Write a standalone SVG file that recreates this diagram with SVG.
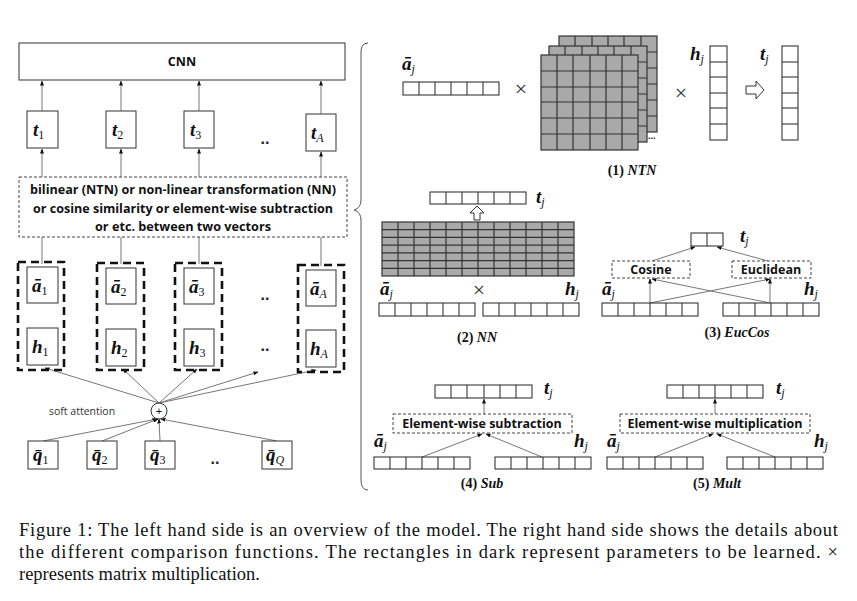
<svg xmlns="http://www.w3.org/2000/svg" width="857" height="601" viewBox="0 0 857 601">
<defs>
<marker id="ah" viewBox="0 0 10 10" refX="9" refY="5" markerWidth="5" markerHeight="5" orient="auto"><path d="M0,1 L10,5 L0,9 z" fill="#111"/></marker>
</defs>
<style>
.b{fill:#fff;stroke:#333;stroke-width:1}
.d{fill:#fff;stroke:#444;stroke-width:1;stroke-dasharray:3,2}
.g{fill:none;stroke:#111;stroke-width:2.6;stroke-dasharray:8,5}
.l{stroke:#777;stroke-width:1;fill:none}
.a{stroke:#777;stroke-width:1;fill:none;marker-end:url(#ah)}
.gr{fill:#a9a9a9;stroke:#333;stroke-width:1.2}
.gl{stroke:#333;stroke-width:1.2;fill:none}
.cl{stroke:#222;stroke-width:1;fill:none}
.s{font-family:"Open Sans","Liberation Sans",sans-serif;font-weight:bold;font-size:12.5px;fill:#111;text-anchor:middle}
.m{font-family:"Liberation Serif",serif;font-weight:bold;font-style:italic;font-size:19px;fill:#111}
.sub{font-family:"Liberation Serif",serif;font-style:italic;font-weight:normal;font-size:12px}
.sn{font-family:"Liberation Serif",serif;font-style:normal;font-weight:normal;font-size:12px}
.c{font-family:"Liberation Serif",serif;font-size:18.5px;fill:#111}
.cap{font-family:"Liberation Serif",serif;font-weight:bold;font-size:14px;fill:#111;text-anchor:middle}
.x{font-family:"Liberation Serif",serif;font-size:22px;fill:#333;text-anchor:middle}
.dots{font-family:"Liberation Sans",sans-serif;font-weight:bold;font-size:16px;fill:#222;text-anchor:middle}
</style>

<g id="connectors">
<line class="a" x1="42" y1="111" x2="42" y2="81"/>
<line class="a" x1="121" y1="111" x2="121" y2="81"/>
<line class="a" x1="199" y1="111" x2="199" y2="81"/>
<line class="a" x1="321" y1="114" x2="321" y2="81"/>
<line class="a" x1="42" y1="177" x2="42" y2="149"/>
<line class="a" x1="121" y1="177" x2="121" y2="149"/>
<line class="a" x1="199" y1="177" x2="199" y2="149"/>
<line class="a" x1="321" y1="177" x2="321" y2="152"/>
<line class="l" x1="42" y1="237" x2="42" y2="264"/>
<line class="l" x1="121" y1="237" x2="121" y2="264"/>
<line class="l" x1="199" y1="237" x2="199" y2="264"/>
<line class="l" x1="321" y1="237" x2="321" y2="266"/>
<line class="a" x1="159" y1="403" x2="45" y2="368"/>
<line class="a" x1="159" y1="403" x2="123" y2="369"/>
<line class="a" x1="159" y1="403" x2="197" y2="369"/>
<line class="a" x1="159" y1="403" x2="258" y2="372"/>
<line class="a" x1="159" y1="403" x2="316" y2="370"/>
<line class="a" x1="43" y1="441" x2="157" y2="419"/>
<line class="a" x1="102" y1="441" x2="158" y2="419"/>
<line class="a" x1="160" y1="441" x2="159" y2="419"/>
<line class="a" x1="277" y1="441" x2="161" y2="419"/>
<line class="a" x1="650" y1="303" x2="650" y2="279"/>
<line class="a" x1="650" y1="303" x2="770" y2="279"/>
<line class="a" x1="770" y1="303" x2="652" y2="279"/>
<line class="a" x1="770" y1="303" x2="770" y2="279"/>
<line class="a" x1="652" y1="261" x2="695" y2="247"/>
<line class="a" x1="768" y1="261" x2="717" y2="247"/>
<line class="a" x1="484" y1="414" x2="484" y2="399"/>
<line class="a" x1="422" y1="457" x2="482" y2="434"/>
<line class="a" x1="542" y1="457" x2="486" y2="434"/>
<line class="a" x1="715" y1="414" x2="715" y2="399"/>
<line class="a" x1="655" y1="457" x2="713" y2="434"/>
<line class="a" x1="775" y1="457" x2="717" y2="434"/>
</g>

<g id="cnn"><rect class="b" x="19" y="43" width="326" height="37"/><text class="s" x="182" y="66">CNN</text></g>
<g id="t1"><rect class="b" x="27" y="111" width="31" height="37"/><text class="m" x="33" y="136">t<tspan class="sn" dy="3">1</tspan></text></g>
<g id="t2"><rect class="b" x="106" y="111" width="30" height="37"/><text class="m" x="112" y="136">t<tspan class="sn" dy="3">2</tspan></text></g>
<g id="t3"><rect class="b" x="184" y="111" width="30" height="37"/><text class="m" x="190" y="136">t<tspan class="sn" dy="3">3</tspan></text></g>
<text class="dots" x="265" y="144">..</text>
<g id="tA"><rect class="b" x="306" y="114" width="30" height="37"/><text class="m" x="311" y="139">t<tspan class="sub" dy="3">A</tspan></text></g>

<g id="compare"><rect class="d" x="19" y="177" width="328" height="60"/>
<text class="s" x="183" y="194" textLength="306" lengthAdjust="spacingAndGlyphs">bilinear (NTN) or non-linear transformation (NN)</text>
<text class="s" x="183" y="213" textLength="300" lengthAdjust="spacingAndGlyphs">or cosine similarity or element-wise subtraction</text>
<text class="s" x="183" y="231" textLength="176" lengthAdjust="spacingAndGlyphs">or etc. between two vectors</text></g>

<g id="pair1"><rect class="g" x="18" y="262" width="46" height="108"/>
<rect class="b" x="27" y="267" width="31" height="36"/><text class="m" x="32" y="292">ā<tspan class="sn" dy="3">1</tspan></text>
<rect class="b" x="27" y="328" width="31" height="37"/><text class="m" x="32" y="353">h<tspan class="sn" dy="3">1</tspan></text></g>
<g id="pair2"><rect class="g" x="97" y="263" width="47" height="107"/>
<rect class="b" x="106" y="268" width="30" height="36"/><text class="m" x="111" y="293">ā<tspan class="sn" dy="3">2</tspan></text>
<rect class="b" x="106" y="329" width="30" height="37"/><text class="m" x="111" y="354">h<tspan class="sn" dy="3">2</tspan></text></g>
<g id="pair3"><rect class="g" x="175" y="263" width="47" height="107"/>
<rect class="b" x="184" y="268" width="30" height="36"/><text class="m" x="189" y="293">ā<tspan class="sn" dy="3">3</tspan></text>
<rect class="b" x="184" y="329" width="30" height="37"/><text class="m" x="189" y="354">h<tspan class="sn" dy="3">3</tspan></text></g>
<text class="dots" x="265" y="300">..</text>
<text class="dots" x="265" y="351">..</text>
<g id="pairA"><rect class="g" x="298" y="265" width="46" height="107"/>
<rect class="b" x="306" y="270" width="30" height="36"/><text class="m" x="310" y="295">ā<tspan class="sub" dy="3">A</tspan></text>
<rect class="b" x="306" y="330" width="30" height="37"/><text class="m" x="310" y="355">h<tspan class="sub" dy="3">A</tspan></text></g>

<g id="attn"><circle cx="159" cy="411" r="8" fill="#fff" stroke="#333"/>
<text x="159" y="415" font-family="Liberation Sans,sans-serif" font-size="11" text-anchor="middle" fill="#111">+</text>
<text x="49" y="415" font-family="Open Sans,Liberation Sans,sans-serif" font-size="10.5" fill="#333">soft attention</text></g>

<g id="q1"><rect class="b" x="28" y="441" width="30" height="28"/><text class="m" x="33" y="461">q̄<tspan class="sn" dy="3">1</tspan></text></g>
<g id="q2"><rect class="b" x="87" y="441" width="30" height="28"/><text class="m" x="92" y="461">q̄<tspan class="sn" dy="3">2</tspan></text></g>
<g id="q3"><rect class="b" x="145" y="441" width="30" height="28"/><text class="m" x="150" y="461">q̄<tspan class="sn" dy="3">3</tspan></text></g>
<text class="dots" x="215" y="464">..</text>
<g id="qQ"><rect class="b" x="262" y="441" width="30" height="28"/><text class="m" x="266" y="461">q̄<tspan class="sub" dy="3">Q</tspan></text></g>

<path id="brace" d="M368,43 Q361,43 361,52 L361,200 Q361,208 354,210 Q361,212 361,220 L361,480 Q361,490 368,490" fill="none" stroke="#555" stroke-width="1"/>

<g id="ntn">
<text class="m" x="402" y="70">ā<tspan class="sub" dy="3">j</tspan></text>
<rect x="403" y="82" width="96" height="13" fill="#fff" stroke="#222"/>
<path class="cl" d="M419,82V95M435,82V95M451,82V95M467,82V95M483,82V95"/>
<text class="x" x="521" y="96">×</text>
<rect class="gr" x="559" y="36" width="98" height="96"/>
<path class="gl" d="M575,36V132M592,36V132M608,36V132M624,36V132M641,36V132M559,52H657M559,68H657M559,84H657M559,100H657M559,116H657"/>
<rect class="gr" x="549" y="46" width="98" height="96"/>
<path class="gl" d="M565,46V142M582,46V142M598,46V142M614,46V142M631,46V142M549,62H647M549,78H647M549,94H647M549,110H647M549,126H647"/>
<rect class="gr" x="541" y="55" width="97" height="95"/>
<path class="gl" d="M557,55V150M573,55V150M590,55V150M606,55V150M622,55V150M541,71H638M541,87H638M541,102H638M541,118H638M541,134H638"/>
<text x="648" y="139" font-family="Liberation Sans,sans-serif" font-weight="bold" font-size="9" fill="#111">...</text>
<text class="x" x="681" y="100">×</text>
<text class="m" x="690" y="60">h<tspan class="sub" dy="3">j</tspan></text>
<rect x="710" y="46" width="17" height="94" fill="#fff" stroke="#222"/>
<path class="cl" d="M710,62H727M710,77H727M710,93H727M710,108H727M710,124H727"/>
<path d="M746,86 L756,86 L756,81 L764,90 L756,99 L756,94 L746,94 z" fill="#fff" stroke="#333"/>
<text class="m" x="760" y="60">t<tspan class="sub" dy="3">j</tspan></text>
<rect x="782" y="46" width="16" height="94" fill="#fff" stroke="#222"/>
<path class="cl" d="M782,62H798M782,77H798M782,93H798M782,108H798M782,124H798"/>
<text class="cap" x="632" y="175">(1) <tspan font-style="italic">NTN</tspan></text>
</g>

<g id="nn">
<rect x="430" y="192" width="96" height="12" fill="#fff" stroke="#222"/>
<path class="cl" d="M446,192V204M462,192V204M478,192V204M494,192V204M510,192V204"/>
<text class="m" x="536" y="203">t<tspan class="sub" dy="3">j</tspan></text>
<path d="M474,220 L474,213 L470,213 L477,206 L484,213 L480,213 L480,220 z" fill="#fff" stroke="#333"/>
<rect class="gr" x="382" y="222" width="192" height="54"/>
<path class="gl" d="M398,222V276M414,222V276M430,222V276M446,222V276M462,222V276M478,222V276M494,222V276M510,222V276M526,222V276M542,222V276M558,222V276M382,229.7H574M382,237.4H574M382,245.1H574M382,252.9H574M382,260.6H574M382,268.3H574"/>
<text class="m" x="380" y="295">ā<tspan class="sub" dy="3">j</tspan></text>
<text class="x" x="479" y="297">×</text>
<text class="m" x="565" y="295">h<tspan class="sub" dy="3">j</tspan></text>
<rect x="379" y="303" width="96" height="13" fill="#fff" stroke="#222"/>
<path class="cl" d="M395,303V316M411,303V316M427,303V316M443,303V316M459,303V316"/>
<rect x="483" y="303" width="96" height="13" fill="#fff" stroke="#222"/>
<path class="cl" d="M499,303V316M515,303V316M531,303V316M547,303V316M563,303V316"/>
<text class="cap" x="477" y="342">(2) <tspan font-style="italic">NN</tspan></text>
</g>

<g id="euccos">
<rect x="691" y="233" width="32" height="13" fill="#fff" stroke="#222"/><line x1="707" y1="233" x2="707" y2="246" stroke="#222"/>
<text class="m" x="740" y="242">t<tspan class="sub" dy="3">j</tspan></text>
<rect class="d" x="612" y="261" width="78" height="17"/><text class="s" x="651" y="274">Cosine</text>
<rect class="d" x="732" y="261" width="79" height="17"/><text class="s" x="771" y="274">Euclidean</text>
<text class="m" x="602" y="295">ā<tspan class="sub" dy="3">j</tspan></text>
<text class="m" x="804" y="295">h<tspan class="sub" dy="3">j</tspan></text>
<rect x="602" y="303" width="96" height="13" fill="#fff" stroke="#222"/>
<path class="cl" d="M618,303V316M634,303V316M650,303V316M666,303V316M682,303V316"/>
<rect x="723" y="303" width="96" height="13" fill="#fff" stroke="#222"/>
<path class="cl" d="M739,303V316M755,303V316M771,303V316M787,303V316M803,303V316"/>
<text class="cap" x="737" y="337">(3) <tspan font-style="italic">EucCos</tspan></text>
</g>

<g id="sub">
<rect x="435" y="385" width="97" height="13" fill="#fff" stroke="#222"/>
<path class="cl" d="M451,385V398M467,385V398M484,385V398M500,385V398M516,385V398"/>
<text class="m" x="544" y="394">t<tspan class="sub" dy="3">j</tspan></text>
<rect class="d" x="393" y="414" width="179" height="19"/><text class="s" x="482" y="428">Element-wise subtraction</text>
<text class="m" x="374" y="447">ā<tspan class="sub" dy="3">j</tspan></text>
<text class="m" x="574" y="447">h<tspan class="sub" dy="3">j</tspan></text>
<rect x="374" y="457" width="96" height="12" fill="#fff" stroke="#222"/>
<path class="cl" d="M390,457V469M406,457V469M422,457V469M438,457V469M454,457V469"/>
<rect x="495" y="457" width="96" height="12" fill="#fff" stroke="#222"/>
<path class="cl" d="M511,457V469M527,457V469M543,457V469M559,457V469M575,457V469"/>
<text class="cap" x="482" y="488">(4) <tspan font-style="italic">Sub</tspan></text>
</g>

<g id="mult">
<rect x="667" y="385" width="96" height="13" fill="#fff" stroke="#222"/>
<path class="cl" d="M683,385V398M699,385V398M715,385V398M731,385V398M747,385V398"/>
<text class="m" x="776" y="394">t<tspan class="sub" dy="3">j</tspan></text>
<rect class="d" x="620" y="414" width="190" height="19"/><text class="s" x="715" y="428">Element-wise multiplication</text>
<text class="m" x="607" y="447">ā<tspan class="sub" dy="3">j</tspan></text>
<text class="m" x="814" y="447">h<tspan class="sub" dy="3">j</tspan></text>
<rect x="607" y="457" width="96" height="12" fill="#fff" stroke="#222"/>
<path class="cl" d="M623,457V469M639,457V469M655,457V469M671,457V469M687,457V469"/>
<rect x="727" y="457" width="96" height="12" fill="#fff" stroke="#222"/>
<path class="cl" d="M743,457V469M759,457V469M775,457V469M791,457V469M807,457V469"/>
<text class="cap" x="717" y="488">(5) <tspan font-style="italic">Mult</tspan></text>
</g>

<g id="caption">
<text class="c" x="19" y="536" textLength="819" lengthAdjust="spacing">Figure 1: The left hand side is an overview of the model. The right hand side shows the details about</text>
<text class="c" x="19" y="558" textLength="819" lengthAdjust="spacing">the different comparison functions. The rectangles in dark represent parameters to be learned. ×</text>
<text class="c" x="19" y="580">represents matrix multiplication.</text>
</g>
</svg>
